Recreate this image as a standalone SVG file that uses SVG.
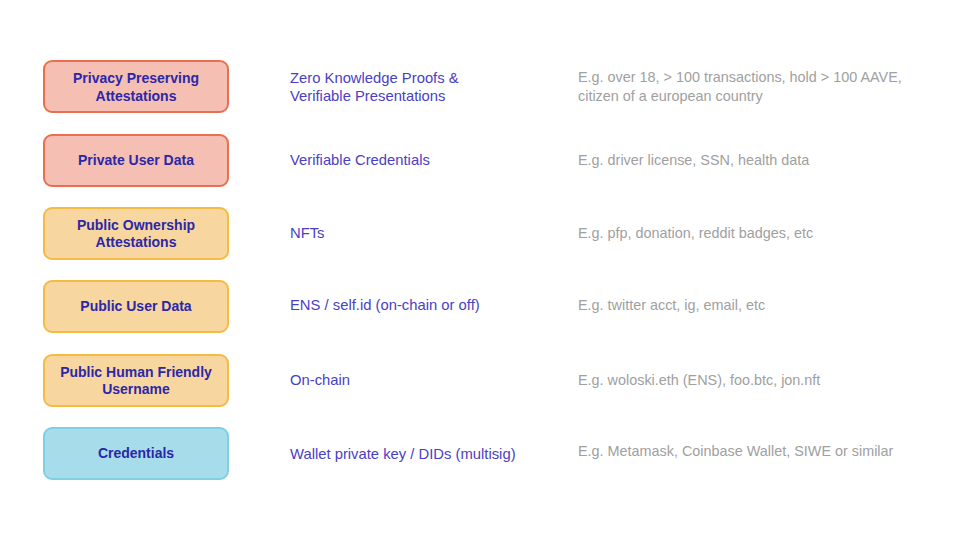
<svg xmlns="http://www.w3.org/2000/svg" width="960" height="540" viewBox="0 0 960 540">
<style>
.box{stroke-width:2}
.red{fill:#f6bfb3;stroke:#e8704f}
.org{fill:#f8d6a0;stroke:#f4bb45}
.blu{fill:#a7dcea;stroke:#80cfe2}
.bt{font-family:"Liberation Sans",Arial,sans-serif;font-size:14px;font-weight:bold;fill:#2b27a8;text-anchor:middle}
.mt{font-family:"Liberation Sans",Arial,sans-serif;font-size:14.8px;fill:#4a40c4}
.rt{font-family:"Liberation Sans",Arial,sans-serif;font-size:14.4px;fill:#a0a0a0}
</style>
<rect width="960" height="540" fill="#ffffff"/>
<g id="n1"><rect class="box red" x="44" y="61" width="184" height="51" rx="8"/><text class="bt" x="136" y="83">Privacy Preserving</text><text class="bt" x="136" y="101">Attestations</text></g>
<g id="n2"><rect class="box red" x="44" y="135" width="184" height="51" rx="8"/><text class="bt" x="136" y="165">Private User Data</text></g>
<g id="n3"><rect class="box org" x="44" y="208" width="184" height="51" rx="8"/><text class="bt" x="136" y="230">Public Ownership</text><text class="bt" x="136" y="247">Attestations</text></g>
<g id="n4"><rect class="box org" x="44" y="281" width="184" height="51" rx="8"/><text class="bt" x="136" y="311">Public User Data</text></g>
<g id="n5"><rect class="box org" x="44" y="355" width="184" height="51" rx="8"/><text class="bt" x="136" y="377">Public Human Friendly</text><text class="bt" x="136" y="394">Username</text></g>
<g id="n6"><rect class="box blu" x="44" y="428" width="184" height="51" rx="8"/><text class="bt" x="136" y="458">Credentials</text></g>
<g id="mid">
<text class="mt" x="290" y="83">Zero Knowledge Proofs &amp;</text>
<text class="mt" x="290" y="101">Verifiable Presentations</text>
<text class="mt" x="290" y="165">Verifiable Credentials</text>
<text class="mt" x="290" y="238">NFTs</text>
<text class="mt" x="290" y="310">ENS / self.id (on-chain or off)</text>
<text class="mt" x="290" y="385">On-chain</text>
<text class="mt" x="290" y="459">Wallet private key / DIDs (multisig)</text>
</g>
<g id="right">
<text class="rt" x="578" y="82">E.g. over 18, &gt; 100 transactions, hold &gt; 100 AAVE,</text>
<text class="rt" x="578" y="101">citizen of a european country</text>
<text class="rt" x="578" y="165">E.g. driver license, SSN, health data</text>
<text class="rt" x="578" y="238">E.g. pfp, donation, reddit badges, etc</text>
<text class="rt" x="578" y="310">E.g. twitter acct, ig, email, etc</text>
<text class="rt" x="578" y="385">E.g. woloski.eth (ENS), foo.btc, jon.nft</text>
<text class="rt" x="578" y="456">E.g. Metamask, Coinbase Wallet, SIWE or similar</text>
</g>
</svg>
